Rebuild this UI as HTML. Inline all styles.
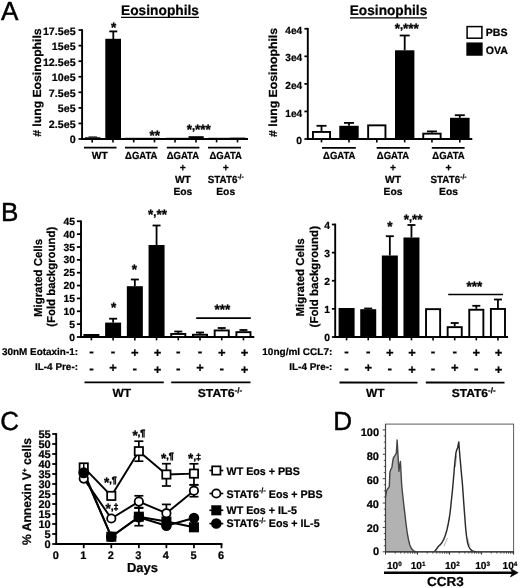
<!DOCTYPE html>
<html lang="en">
<head>
<meta charset="utf-8">
<title>Figure</title>
<style>
html,body{margin:0;padding:0;background:#fff;}
body{width:520px;height:588px;overflow:hidden;}
svg{display:block;font-family:'Liberation Sans', Arial, sans-serif;fill:#000;}
text{stroke:#000;stroke-width:0.22px;text-rendering:geometricPrecision;}
</style>
</head>
<body>
<svg width="520" height="588" viewBox="0 0 520 588" font-family="'Liberation Sans', Arial, sans-serif">
<rect x="0" y="0" width="520" height="588" fill="#fff" stroke="none"/>
<text x="1.10" y="19.70" font-size="26.1" style="stroke-width:0.45px">A</text>
<text x="0.90" y="220.90" font-size="26.1" style="stroke-width:0.45px">B</text>
<text x="0.20" y="430.00" font-size="26.1" style="stroke-width:0.45px">C</text>
<text x="333.20" y="430.10" font-size="26.1" style="stroke-width:0.45px">D</text>
<line x1="82.10" y1="29.20" x2="82.10" y2="139.90" stroke="#000" stroke-width="1.9" stroke-linecap="butt"/>
<line x1="81.20" y1="139.00" x2="248.00" y2="139.00" stroke="#000" stroke-width="1.9" stroke-linecap="butt"/>
<line x1="78.50" y1="139.00" x2="82.10" y2="139.00" stroke="#000" stroke-width="1.75" stroke-linecap="butt"/>
<text x="75.60" y="143.43" font-size="10.7" text-anchor="end" font-weight="bold">0</text>
<line x1="78.50" y1="123.44" x2="82.10" y2="123.44" stroke="#000" stroke-width="1.75" stroke-linecap="butt"/>
<text x="75.60" y="127.87" font-size="10.7" text-anchor="end" font-weight="bold">2.5e5</text>
<line x1="78.50" y1="107.88" x2="82.10" y2="107.88" stroke="#000" stroke-width="1.75" stroke-linecap="butt"/>
<text x="75.60" y="112.31" font-size="10.7" text-anchor="end" font-weight="bold">5e5</text>
<line x1="78.50" y1="92.32" x2="82.10" y2="92.32" stroke="#000" stroke-width="1.75" stroke-linecap="butt"/>
<text x="75.60" y="96.75" font-size="10.7" text-anchor="end" font-weight="bold">7.5e5</text>
<line x1="78.50" y1="76.76" x2="82.10" y2="76.76" stroke="#000" stroke-width="1.75" stroke-linecap="butt"/>
<text x="75.60" y="81.19" font-size="10.7" text-anchor="end" font-weight="bold">10e5</text>
<line x1="78.50" y1="61.20" x2="82.10" y2="61.20" stroke="#000" stroke-width="1.75" stroke-linecap="butt"/>
<text x="75.60" y="65.63" font-size="10.7" text-anchor="end" font-weight="bold">12.5e5</text>
<line x1="78.50" y1="45.64" x2="82.10" y2="45.64" stroke="#000" stroke-width="1.75" stroke-linecap="butt"/>
<text x="75.60" y="50.07" font-size="10.7" text-anchor="end" font-weight="bold">15e5</text>
<line x1="78.50" y1="30.08" x2="82.10" y2="30.08" stroke="#000" stroke-width="1.75" stroke-linecap="butt"/>
<text x="75.60" y="34.51" font-size="10.7" text-anchor="end" font-weight="bold">17.5e5</text>
<text x="36.60" y="86.79" font-size="11.7" text-anchor="middle" font-weight="bold" transform="rotate(-90 36.60 82.60)" textLength="108.5" lengthAdjust="spacingAndGlyphs"># lung Eosinophils</text>
<text x="160.00" y="15.21" font-size="14" text-anchor="middle" font-weight="bold" textLength="78" lengthAdjust="spacingAndGlyphs">Eosinophils</text>
<line x1="121.00" y1="17.40" x2="199.00" y2="17.40" stroke="#000" stroke-width="1.3" stroke-linecap="butt"/>
<rect x="85.95" y="138.25" width="13.60" height="0.75" fill="#000" stroke="#000" stroke-width="1.9"/>
<line x1="88.50" y1="136.90" x2="97.00" y2="136.90" stroke="#000" stroke-width="0.9" stroke-linecap="butt"/>
<rect x="106.25" y="39.75" width="13.80" height="99.25" fill="#000" stroke="#000" stroke-width="1.9"/>
<line x1="113.30" y1="39.00" x2="113.30" y2="31.40" stroke="#000" stroke-width="1.8" stroke-linecap="butt"/>
<line x1="109.30" y1="31.40" x2="117.30" y2="31.40" stroke="#000" stroke-width="1.8" stroke-linecap="butt"/>
<text x="113.70" y="32.21" font-size="13.5" text-anchor="middle" font-weight="bold" style="stroke-width:0.32px">*</text>
<line x1="125.00" y1="138.30" x2="160.00" y2="138.30" stroke="#000" stroke-width="1.0" stroke-linecap="butt"/>
<line x1="166.00" y1="138.30" x2="188.00" y2="138.30" stroke="#000" stroke-width="1.0" stroke-linecap="butt"/>
<rect x="189.45" y="137.15" width="13.30" height="1.85" fill="#000" stroke="#000" stroke-width="1.9"/>
<line x1="208.00" y1="138.30" x2="230.00" y2="138.30" stroke="#000" stroke-width="1.0" stroke-linecap="butt"/>
<rect x="230.95" y="138.55" width="13.60" height="0.45" fill="#000" stroke="#000" stroke-width="1.9"/>
<text x="154.70" y="139.51" font-size="13.5" text-anchor="middle" font-weight="bold" style="stroke-width:0.32px">**</text>
<text x="198.80" y="133.61" font-size="13.5" text-anchor="middle" font-weight="bold" style="stroke-width:0.32px">*<tspan font-size="11" dy="-3.7">,</tspan><tspan dy="3.7">***</tspan></text>
<line x1="92.20" y1="139.00" x2="92.20" y2="142.40" stroke="#000" stroke-width="1.6" stroke-linecap="butt"/>
<line x1="113.00" y1="139.00" x2="113.00" y2="142.40" stroke="#000" stroke-width="1.6" stroke-linecap="butt"/>
<line x1="133.70" y1="139.00" x2="133.70" y2="142.40" stroke="#000" stroke-width="1.6" stroke-linecap="butt"/>
<line x1="154.50" y1="139.00" x2="154.50" y2="142.40" stroke="#000" stroke-width="1.6" stroke-linecap="butt"/>
<line x1="175.00" y1="139.00" x2="175.00" y2="142.40" stroke="#000" stroke-width="1.6" stroke-linecap="butt"/>
<line x1="196.00" y1="139.00" x2="196.00" y2="142.40" stroke="#000" stroke-width="1.6" stroke-linecap="butt"/>
<line x1="216.60" y1="139.00" x2="216.60" y2="142.40" stroke="#000" stroke-width="1.6" stroke-linecap="butt"/>
<line x1="237.50" y1="139.00" x2="237.50" y2="142.40" stroke="#000" stroke-width="1.6" stroke-linecap="butt"/>
<line x1="84.00" y1="147.60" x2="116.50" y2="147.60" stroke="#000" stroke-width="1.75" stroke-linecap="butt"/>
<line x1="125.00" y1="147.60" x2="157.60" y2="147.60" stroke="#000" stroke-width="1.75" stroke-linecap="butt"/>
<line x1="166.80" y1="147.60" x2="199.40" y2="147.60" stroke="#000" stroke-width="1.75" stroke-linecap="butt"/>
<line x1="208.00" y1="147.60" x2="241.00" y2="147.60" stroke="#000" stroke-width="1.75" stroke-linecap="butt"/>
<text x="99.80" y="159.29" font-size="10.3" text-anchor="middle" font-weight="bold">WT</text>
<text x="141.30" y="159.19" font-size="10.3" text-anchor="middle" font-weight="bold" textLength="32.4" lengthAdjust="spacingAndGlyphs">&#916;GATA</text>
<text x="182.90" y="159.19" font-size="10.3" text-anchor="middle" font-weight="bold" textLength="32.4" lengthAdjust="spacingAndGlyphs">&#916;GATA</text>
<text x="182.90" y="171.18" font-size="10.4" text-anchor="middle" font-weight="bold">+</text>
<text x="182.90" y="182.89" font-size="10.3" text-anchor="middle" font-weight="bold">WT</text>
<text x="182.90" y="195.19" font-size="10.3" text-anchor="middle" font-weight="bold">Eos</text>
<text x="225.70" y="159.19" font-size="10.3" text-anchor="middle" font-weight="bold" textLength="32.4" lengthAdjust="spacingAndGlyphs">&#916;GATA</text>
<text x="225.70" y="171.18" font-size="10.4" text-anchor="middle" font-weight="bold">+</text>
<text x="225.70" y="182.89" font-size="10.3" text-anchor="middle" font-weight="bold" textLength="36" lengthAdjust="spacingAndGlyphs">STAT6<tspan font-size="7.0" dy="-4.1">-/-</tspan></text>
<text x="225.70" y="195.19" font-size="10.3" text-anchor="middle" font-weight="bold">Eos</text>
<line x1="307.80" y1="27.90" x2="307.80" y2="139.90" stroke="#000" stroke-width="1.9" stroke-linecap="butt"/>
<line x1="306.90" y1="139.00" x2="472.30" y2="139.00" stroke="#000" stroke-width="1.9" stroke-linecap="butt"/>
<line x1="304.40" y1="139.00" x2="307.80" y2="139.00" stroke="#000" stroke-width="1.75" stroke-linecap="butt"/>
<text x="302.10" y="144.09" font-size="10.3" text-anchor="end" font-weight="bold">0</text>
<line x1="304.40" y1="111.44" x2="307.80" y2="111.44" stroke="#000" stroke-width="1.75" stroke-linecap="butt"/>
<text x="302.10" y="116.53" font-size="10.3" text-anchor="end" font-weight="bold" textLength="16.8" lengthAdjust="spacingAndGlyphs">1e4</text>
<line x1="304.40" y1="83.88" x2="307.80" y2="83.88" stroke="#000" stroke-width="1.75" stroke-linecap="butt"/>
<text x="302.10" y="88.97" font-size="10.3" text-anchor="end" font-weight="bold" textLength="16.8" lengthAdjust="spacingAndGlyphs">2e4</text>
<line x1="304.40" y1="56.32" x2="307.80" y2="56.32" stroke="#000" stroke-width="1.75" stroke-linecap="butt"/>
<text x="302.10" y="61.41" font-size="10.3" text-anchor="end" font-weight="bold" textLength="16.8" lengthAdjust="spacingAndGlyphs">3e4</text>
<line x1="304.40" y1="28.76" x2="307.80" y2="28.76" stroke="#000" stroke-width="1.75" stroke-linecap="butt"/>
<text x="302.10" y="33.85" font-size="10.3" text-anchor="end" font-weight="bold" textLength="16.8" lengthAdjust="spacingAndGlyphs">4e4</text>
<text x="272.90" y="86.59" font-size="11.7" text-anchor="middle" font-weight="bold" transform="rotate(-90 272.90 82.40)" textLength="109" lengthAdjust="spacingAndGlyphs"># lung Eosinophils</text>
<text x="388.50" y="15.41" font-size="14" text-anchor="middle" font-weight="bold" textLength="77.5" lengthAdjust="spacingAndGlyphs">Eosinophils</text>
<line x1="350.00" y1="17.80" x2="427.00" y2="17.80" stroke="#000" stroke-width="1.3" stroke-linecap="butt"/>
<line x1="321.50" y1="131.00" x2="321.50" y2="125.80" stroke="#000" stroke-width="1.8" stroke-linecap="butt"/>
<line x1="316.50" y1="125.80" x2="326.50" y2="125.80" stroke="#000" stroke-width="1.8" stroke-linecap="butt"/>
<rect x="312.95" y="131.95" width="17.10" height="7.05" fill="#fff" stroke="#000" stroke-width="1.9"/>
<line x1="321.50" y1="139.00" x2="321.50" y2="142.40" stroke="#000" stroke-width="1.6" stroke-linecap="butt"/>
<line x1="349.00" y1="125.80" x2="349.00" y2="122.90" stroke="#000" stroke-width="1.8" stroke-linecap="butt"/>
<line x1="344.00" y1="122.90" x2="354.00" y2="122.90" stroke="#000" stroke-width="1.8" stroke-linecap="butt"/>
<rect x="340.25" y="126.75" width="17.50" height="12.25" fill="#000" stroke="#000" stroke-width="1.9"/>
<line x1="349.00" y1="139.00" x2="349.00" y2="142.40" stroke="#000" stroke-width="1.6" stroke-linecap="butt"/>
<rect x="368.15" y="125.35" width="17.30" height="13.65" fill="#fff" stroke="#000" stroke-width="1.9"/>
<line x1="376.80" y1="139.00" x2="376.80" y2="142.40" stroke="#000" stroke-width="1.6" stroke-linecap="butt"/>
<line x1="404.70" y1="50.30" x2="404.70" y2="35.50" stroke="#000" stroke-width="1.8" stroke-linecap="butt"/>
<line x1="399.70" y1="35.50" x2="409.70" y2="35.50" stroke="#000" stroke-width="1.8" stroke-linecap="butt"/>
<rect x="395.95" y="51.25" width="17.50" height="87.75" fill="#000" stroke="#000" stroke-width="1.9"/>
<line x1="404.70" y1="139.00" x2="404.70" y2="142.40" stroke="#000" stroke-width="1.6" stroke-linecap="butt"/>
<line x1="431.95" y1="132.70" x2="431.95" y2="131.40" stroke="#000" stroke-width="1.8" stroke-linecap="butt"/>
<line x1="426.95" y1="131.40" x2="436.95" y2="131.40" stroke="#000" stroke-width="1.8" stroke-linecap="butt"/>
<rect x="423.25" y="133.65" width="17.40" height="5.35" fill="#fff" stroke="#000" stroke-width="1.9"/>
<line x1="431.95" y1="139.00" x2="431.95" y2="142.40" stroke="#000" stroke-width="1.6" stroke-linecap="butt"/>
<line x1="459.80" y1="117.80" x2="459.80" y2="115.20" stroke="#000" stroke-width="1.8" stroke-linecap="butt"/>
<line x1="454.80" y1="115.20" x2="464.80" y2="115.20" stroke="#000" stroke-width="1.8" stroke-linecap="butt"/>
<rect x="450.95" y="118.75" width="17.70" height="20.25" fill="#000" stroke="#000" stroke-width="1.9"/>
<line x1="459.80" y1="139.00" x2="459.80" y2="142.40" stroke="#000" stroke-width="1.6" stroke-linecap="butt"/>
<text x="406.80" y="32.51" font-size="13.5" text-anchor="middle" font-weight="bold" style="stroke-width:0.32px">*<tspan font-size="11" dy="-3.7">,</tspan><tspan dy="3.7">***</tspan></text>
<line x1="322.00" y1="147.90" x2="355.80" y2="147.90" stroke="#000" stroke-width="1.75" stroke-linecap="butt"/>
<line x1="376.60" y1="147.90" x2="409.80" y2="147.90" stroke="#000" stroke-width="1.75" stroke-linecap="butt"/>
<line x1="431.80" y1="147.90" x2="464.60" y2="147.90" stroke="#000" stroke-width="1.75" stroke-linecap="butt"/>
<text x="339.30" y="159.19" font-size="10.3" text-anchor="middle" font-weight="bold" textLength="32.4" lengthAdjust="spacingAndGlyphs">&#916;GATA</text>
<text x="393.00" y="159.19" font-size="10.3" text-anchor="middle" font-weight="bold" textLength="32.4" lengthAdjust="spacingAndGlyphs">&#916;GATA</text>
<text x="393.00" y="171.18" font-size="10.4" text-anchor="middle" font-weight="bold">+</text>
<text x="393.00" y="182.89" font-size="10.3" text-anchor="middle" font-weight="bold">WT</text>
<text x="393.00" y="195.19" font-size="10.3" text-anchor="middle" font-weight="bold">Eos</text>
<text x="448.50" y="159.19" font-size="10.3" text-anchor="middle" font-weight="bold" textLength="32.4" lengthAdjust="spacingAndGlyphs">&#916;GATA</text>
<text x="448.50" y="171.18" font-size="10.4" text-anchor="middle" font-weight="bold">+</text>
<text x="448.50" y="182.89" font-size="10.3" text-anchor="middle" font-weight="bold" textLength="36" lengthAdjust="spacingAndGlyphs">STAT6<tspan font-size="7.0" dy="-4.1">-/-</tspan></text>
<text x="448.50" y="195.19" font-size="10.3" text-anchor="middle" font-weight="bold">Eos</text>
<rect x="467.10" y="26.60" width="14.80" height="11.60" fill="#fff" stroke="#000" stroke-width="1.5"/>
<rect x="467.10" y="43.20" width="14.80" height="11.80" fill="#000" stroke="#000" stroke-width="1.5"/>
<text x="485.80" y="36.39" font-size="10.6" text-anchor="start" font-weight="bold">PBS</text>
<text x="485.80" y="54.39" font-size="10.6" text-anchor="start" font-weight="bold">OVA</text>
<line x1="81.00" y1="220.40" x2="81.00" y2="337.90" stroke="#000" stroke-width="1.9" stroke-linecap="butt"/>
<line x1="80.10" y1="337.00" x2="254.30" y2="337.00" stroke="#000" stroke-width="1.9" stroke-linecap="butt"/>
<line x1="76.90" y1="337.00" x2="81.00" y2="337.00" stroke="#000" stroke-width="1.75" stroke-linecap="butt"/>
<text x="75.00" y="340.59" font-size="10.3" text-anchor="end" font-weight="bold">0</text>
<line x1="76.90" y1="324.14" x2="81.00" y2="324.14" stroke="#000" stroke-width="1.75" stroke-linecap="butt"/>
<text x="75.00" y="327.73" font-size="10.3" text-anchor="end" font-weight="bold">5</text>
<line x1="76.90" y1="311.28" x2="81.00" y2="311.28" stroke="#000" stroke-width="1.75" stroke-linecap="butt"/>
<text x="75.00" y="314.87" font-size="10.3" text-anchor="end" font-weight="bold">10</text>
<line x1="76.90" y1="298.42" x2="81.00" y2="298.42" stroke="#000" stroke-width="1.75" stroke-linecap="butt"/>
<text x="75.00" y="302.01" font-size="10.3" text-anchor="end" font-weight="bold">15</text>
<line x1="76.90" y1="285.56" x2="81.00" y2="285.56" stroke="#000" stroke-width="1.75" stroke-linecap="butt"/>
<text x="75.00" y="289.15" font-size="10.3" text-anchor="end" font-weight="bold">20</text>
<line x1="76.90" y1="272.70" x2="81.00" y2="272.70" stroke="#000" stroke-width="1.75" stroke-linecap="butt"/>
<text x="75.00" y="276.29" font-size="10.3" text-anchor="end" font-weight="bold">25</text>
<line x1="76.90" y1="259.84" x2="81.00" y2="259.84" stroke="#000" stroke-width="1.75" stroke-linecap="butt"/>
<text x="75.00" y="263.43" font-size="10.3" text-anchor="end" font-weight="bold">30</text>
<line x1="76.90" y1="246.98" x2="81.00" y2="246.98" stroke="#000" stroke-width="1.75" stroke-linecap="butt"/>
<text x="75.00" y="250.57" font-size="10.3" text-anchor="end" font-weight="bold">35</text>
<line x1="76.90" y1="234.12" x2="81.00" y2="234.12" stroke="#000" stroke-width="1.75" stroke-linecap="butt"/>
<text x="75.00" y="237.71" font-size="10.3" text-anchor="end" font-weight="bold">40</text>
<line x1="76.90" y1="221.26" x2="81.00" y2="221.26" stroke="#000" stroke-width="1.75" stroke-linecap="butt"/>
<text x="75.00" y="224.85" font-size="10.3" text-anchor="end" font-weight="bold">45</text>
<text x="37.50" y="282.12" font-size="11.5" text-anchor="middle" font-weight="bold" transform="rotate(-90 37.50 278.00)" textLength="78" lengthAdjust="spacingAndGlyphs">Migrated Cells</text>
<text x="51.00" y="280.92" font-size="11.5" text-anchor="middle" font-weight="bold" transform="rotate(-90 51.00 276.80)" textLength="100" lengthAdjust="spacingAndGlyphs">(Fold background)</text>
<rect x="84.35" y="334.95" width="14.10" height="2.05" fill="#000" stroke="#000" stroke-width="1.9"/>
<line x1="91.40" y1="337.00" x2="91.40" y2="340.40" stroke="#000" stroke-width="1.6" stroke-linecap="butt"/>
<line x1="113.12" y1="322.60" x2="113.12" y2="318.70" stroke="#000" stroke-width="1.8" stroke-linecap="butt"/>
<line x1="109.12" y1="318.70" x2="117.12" y2="318.70" stroke="#000" stroke-width="1.8" stroke-linecap="butt"/>
<rect x="106.07" y="323.55" width="14.10" height="13.45" fill="#000" stroke="#000" stroke-width="1.9"/>
<line x1="113.12" y1="337.00" x2="113.12" y2="340.40" stroke="#000" stroke-width="1.6" stroke-linecap="butt"/>
<line x1="134.84" y1="286.20" x2="134.84" y2="279.50" stroke="#000" stroke-width="1.8" stroke-linecap="butt"/>
<line x1="130.84" y1="279.50" x2="138.84" y2="279.50" stroke="#000" stroke-width="1.8" stroke-linecap="butt"/>
<rect x="127.79" y="287.15" width="14.10" height="49.85" fill="#000" stroke="#000" stroke-width="1.9"/>
<line x1="134.84" y1="337.00" x2="134.84" y2="340.40" stroke="#000" stroke-width="1.6" stroke-linecap="butt"/>
<line x1="156.56" y1="245.00" x2="156.56" y2="225.50" stroke="#000" stroke-width="1.8" stroke-linecap="butt"/>
<line x1="152.56" y1="225.50" x2="160.56" y2="225.50" stroke="#000" stroke-width="1.8" stroke-linecap="butt"/>
<rect x="149.51" y="245.95" width="14.10" height="91.05" fill="#000" stroke="#000" stroke-width="1.9"/>
<line x1="156.56" y1="337.00" x2="156.56" y2="340.40" stroke="#000" stroke-width="1.6" stroke-linecap="butt"/>
<line x1="178.28" y1="333.00" x2="178.28" y2="331.50" stroke="#000" stroke-width="1.8" stroke-linecap="butt"/>
<line x1="174.28" y1="331.50" x2="182.28" y2="331.50" stroke="#000" stroke-width="1.8" stroke-linecap="butt"/>
<rect x="171.23" y="333.95" width="14.10" height="3.05" fill="#fff" stroke="#000" stroke-width="1.9"/>
<line x1="178.28" y1="337.00" x2="178.28" y2="340.40" stroke="#000" stroke-width="1.6" stroke-linecap="butt"/>
<line x1="200.00" y1="333.80" x2="200.00" y2="332.50" stroke="#000" stroke-width="1.8" stroke-linecap="butt"/>
<line x1="196.00" y1="332.50" x2="204.00" y2="332.50" stroke="#000" stroke-width="1.8" stroke-linecap="butt"/>
<rect x="192.95" y="334.75" width="14.10" height="2.25" fill="#fff" stroke="#000" stroke-width="1.9"/>
<line x1="200.00" y1="337.00" x2="200.00" y2="340.40" stroke="#000" stroke-width="1.6" stroke-linecap="butt"/>
<line x1="221.72" y1="329.50" x2="221.72" y2="328.00" stroke="#000" stroke-width="1.8" stroke-linecap="butt"/>
<line x1="217.72" y1="328.00" x2="225.72" y2="328.00" stroke="#000" stroke-width="1.8" stroke-linecap="butt"/>
<rect x="214.67" y="330.45" width="14.10" height="6.55" fill="#fff" stroke="#000" stroke-width="1.9"/>
<line x1="221.72" y1="337.00" x2="221.72" y2="340.40" stroke="#000" stroke-width="1.6" stroke-linecap="butt"/>
<line x1="243.44" y1="331.20" x2="243.44" y2="330.00" stroke="#000" stroke-width="1.8" stroke-linecap="butt"/>
<line x1="239.44" y1="330.00" x2="247.44" y2="330.00" stroke="#000" stroke-width="1.8" stroke-linecap="butt"/>
<rect x="236.39" y="332.15" width="14.10" height="4.85" fill="#fff" stroke="#000" stroke-width="1.9"/>
<line x1="243.44" y1="337.00" x2="243.44" y2="340.40" stroke="#000" stroke-width="1.6" stroke-linecap="butt"/>
<text x="113.70" y="312.21" font-size="13.5" text-anchor="middle" font-weight="bold" style="stroke-width:0.32px">*</text>
<text x="134.50" y="274.21" font-size="13.5" text-anchor="middle" font-weight="bold" style="stroke-width:0.32px">*</text>
<text x="157.50" y="219.21" font-size="13.5" text-anchor="middle" font-weight="bold" style="stroke-width:0.32px">*<tspan font-size="11" dy="-3.7">,</tspan><tspan dy="3.7">**</tspan></text>
<text x="222.50" y="314.21" font-size="13.5" text-anchor="middle" font-weight="bold" style="stroke-width:0.32px">***</text>
<line x1="196.20" y1="318.20" x2="250.80" y2="318.20" stroke="#000" stroke-width="1.7" stroke-linecap="butt"/>
<text x="78.00" y="355.31" font-size="9.8" text-anchor="end" font-weight="bold" textLength="76" lengthAdjust="spacingAndGlyphs">30nM Eotaxin-1:</text>
<text x="78.00" y="369.51" font-size="9.8" text-anchor="end" font-weight="bold" textLength="43" lengthAdjust="spacingAndGlyphs">IL-4 Pre-:</text>
<text x="91.40" y="356.31" font-size="13.5" text-anchor="middle" font-weight="bold">-</text>
<text x="91.40" y="373.01" font-size="13.5" text-anchor="middle" font-weight="bold">-</text>
<text x="113.12" y="356.31" font-size="13.5" text-anchor="middle" font-weight="bold">-</text>
<text x="113.12" y="371.86" font-size="13.0" text-anchor="middle" font-weight="bold">+</text>
<text x="134.84" y="357.16" font-size="13.0" text-anchor="middle" font-weight="bold">+</text>
<text x="134.84" y="373.01" font-size="13.5" text-anchor="middle" font-weight="bold">-</text>
<text x="157.66" y="357.16" font-size="13.0" text-anchor="middle" font-weight="bold">+</text>
<text x="157.66" y="373.75" font-size="13.0" text-anchor="middle" font-weight="bold">+</text>
<text x="178.28" y="356.31" font-size="13.5" text-anchor="middle" font-weight="bold">-</text>
<text x="178.28" y="373.01" font-size="13.5" text-anchor="middle" font-weight="bold">-</text>
<text x="200.00" y="356.31" font-size="13.5" text-anchor="middle" font-weight="bold">-</text>
<text x="200.00" y="371.86" font-size="13.0" text-anchor="middle" font-weight="bold">+</text>
<text x="221.72" y="357.16" font-size="13.0" text-anchor="middle" font-weight="bold">+</text>
<text x="221.72" y="373.01" font-size="13.5" text-anchor="middle" font-weight="bold">-</text>
<text x="244.54" y="357.16" font-size="13.0" text-anchor="middle" font-weight="bold">+</text>
<text x="244.54" y="373.75" font-size="13.0" text-anchor="middle" font-weight="bold">+</text>
<line x1="84.50" y1="382.40" x2="163.80" y2="382.40" stroke="#000" stroke-width="1.8" stroke-linecap="butt"/>
<line x1="171.20" y1="382.40" x2="250.50" y2="382.40" stroke="#000" stroke-width="1.8" stroke-linecap="butt"/>
<text x="121.80" y="397.00" font-size="12" text-anchor="middle" font-weight="bold">WT</text>
<text x="220.00" y="397.12" font-size="11.5" text-anchor="middle" font-weight="bold" textLength="44.5" lengthAdjust="spacingAndGlyphs">STAT6<tspan font-size="7.8" dy="-4.6">-/-</tspan></text>
<line x1="335.20" y1="223.60" x2="335.20" y2="337.90" stroke="#000" stroke-width="1.9" stroke-linecap="butt"/>
<line x1="334.30" y1="337.00" x2="508.00" y2="337.00" stroke="#000" stroke-width="1.9" stroke-linecap="butt"/>
<line x1="331.90" y1="337.00" x2="335.20" y2="337.00" stroke="#000" stroke-width="1.75" stroke-linecap="butt"/>
<text x="330.00" y="341.29" font-size="10.3" text-anchor="end" font-weight="bold">0</text>
<line x1="331.90" y1="308.88" x2="335.20" y2="308.88" stroke="#000" stroke-width="1.75" stroke-linecap="butt"/>
<text x="330.00" y="313.17" font-size="10.3" text-anchor="end" font-weight="bold">1</text>
<line x1="331.90" y1="280.76" x2="335.20" y2="280.76" stroke="#000" stroke-width="1.75" stroke-linecap="butt"/>
<text x="330.00" y="285.05" font-size="10.3" text-anchor="end" font-weight="bold">2</text>
<line x1="331.90" y1="252.64" x2="335.20" y2="252.64" stroke="#000" stroke-width="1.75" stroke-linecap="butt"/>
<text x="330.00" y="256.93" font-size="10.3" text-anchor="end" font-weight="bold">3</text>
<line x1="331.90" y1="224.52" x2="335.20" y2="224.52" stroke="#000" stroke-width="1.75" stroke-linecap="butt"/>
<text x="330.00" y="228.81" font-size="10.3" text-anchor="end" font-weight="bold">4</text>
<text x="300.00" y="281.62" font-size="11.5" text-anchor="middle" font-weight="bold" transform="rotate(-90 300.00 277.50)" textLength="78" lengthAdjust="spacingAndGlyphs">Migrated Cells</text>
<text x="313.70" y="280.82" font-size="11.5" text-anchor="middle" font-weight="bold" transform="rotate(-90 313.70 276.70)" textLength="101.5" lengthAdjust="spacingAndGlyphs">(Fold background)</text>
<rect x="339.55" y="308.95" width="14.10" height="28.05" fill="#000" stroke="#000" stroke-width="1.9"/>
<line x1="346.60" y1="337.00" x2="346.60" y2="340.40" stroke="#000" stroke-width="1.6" stroke-linecap="butt"/>
<line x1="368.22" y1="309.20" x2="368.22" y2="308.50" stroke="#000" stroke-width="1.8" stroke-linecap="butt"/>
<line x1="364.22" y1="308.50" x2="372.22" y2="308.50" stroke="#000" stroke-width="1.8" stroke-linecap="butt"/>
<rect x="361.17" y="310.15" width="14.10" height="26.85" fill="#000" stroke="#000" stroke-width="1.9"/>
<line x1="368.22" y1="337.00" x2="368.22" y2="340.40" stroke="#000" stroke-width="1.6" stroke-linecap="butt"/>
<line x1="389.84" y1="255.50" x2="389.84" y2="236.20" stroke="#000" stroke-width="1.8" stroke-linecap="butt"/>
<line x1="385.84" y1="236.20" x2="393.84" y2="236.20" stroke="#000" stroke-width="1.8" stroke-linecap="butt"/>
<rect x="382.79" y="256.45" width="14.10" height="80.55" fill="#000" stroke="#000" stroke-width="1.9"/>
<line x1="389.84" y1="337.00" x2="389.84" y2="340.40" stroke="#000" stroke-width="1.6" stroke-linecap="butt"/>
<line x1="411.46" y1="237.50" x2="411.46" y2="225.00" stroke="#000" stroke-width="1.8" stroke-linecap="butt"/>
<line x1="407.46" y1="225.00" x2="415.46" y2="225.00" stroke="#000" stroke-width="1.8" stroke-linecap="butt"/>
<rect x="404.41" y="238.45" width="14.10" height="98.55" fill="#000" stroke="#000" stroke-width="1.9"/>
<line x1="411.46" y1="337.00" x2="411.46" y2="340.40" stroke="#000" stroke-width="1.6" stroke-linecap="butt"/>
<rect x="426.03" y="309.15" width="14.10" height="27.85" fill="#fff" stroke="#000" stroke-width="1.9"/>
<line x1="433.08" y1="337.00" x2="433.08" y2="340.40" stroke="#000" stroke-width="1.6" stroke-linecap="butt"/>
<line x1="454.70" y1="326.20" x2="454.70" y2="323.00" stroke="#000" stroke-width="1.8" stroke-linecap="butt"/>
<line x1="450.70" y1="323.00" x2="458.70" y2="323.00" stroke="#000" stroke-width="1.8" stroke-linecap="butt"/>
<rect x="447.65" y="327.15" width="14.10" height="9.85" fill="#fff" stroke="#000" stroke-width="1.9"/>
<line x1="454.70" y1="337.00" x2="454.70" y2="340.40" stroke="#000" stroke-width="1.6" stroke-linecap="butt"/>
<line x1="476.32" y1="308.80" x2="476.32" y2="305.80" stroke="#000" stroke-width="1.8" stroke-linecap="butt"/>
<line x1="472.32" y1="305.80" x2="480.32" y2="305.80" stroke="#000" stroke-width="1.8" stroke-linecap="butt"/>
<rect x="469.27" y="309.75" width="14.10" height="27.25" fill="#fff" stroke="#000" stroke-width="1.9"/>
<line x1="476.32" y1="337.00" x2="476.32" y2="340.40" stroke="#000" stroke-width="1.6" stroke-linecap="butt"/>
<line x1="497.94" y1="308.00" x2="497.94" y2="299.50" stroke="#000" stroke-width="1.8" stroke-linecap="butt"/>
<line x1="493.94" y1="299.50" x2="501.94" y2="299.50" stroke="#000" stroke-width="1.8" stroke-linecap="butt"/>
<rect x="490.89" y="308.95" width="14.10" height="28.05" fill="#fff" stroke="#000" stroke-width="1.9"/>
<line x1="497.94" y1="337.00" x2="497.94" y2="340.40" stroke="#000" stroke-width="1.6" stroke-linecap="butt"/>
<text x="389.80" y="231.21" font-size="13.5" text-anchor="middle" font-weight="bold" style="stroke-width:0.32px">*</text>
<text x="413.20" y="224.21" font-size="13.5" text-anchor="middle" font-weight="bold" style="stroke-width:0.32px">*<tspan font-size="11" dy="-3.7">,</tspan><tspan dy="3.7">**</tspan></text>
<text x="474.40" y="290.51" font-size="13.5" text-anchor="middle" font-weight="bold" style="stroke-width:0.32px">***</text>
<line x1="448.20" y1="294.50" x2="503.00" y2="294.50" stroke="#000" stroke-width="1.7" stroke-linecap="butt"/>
<text x="332.30" y="355.31" font-size="9.8" text-anchor="end" font-weight="bold" textLength="70" lengthAdjust="spacingAndGlyphs">10ng/ml CCL7:</text>
<text x="332.30" y="370.01" font-size="9.8" text-anchor="end" font-weight="bold" textLength="43" lengthAdjust="spacingAndGlyphs">IL-4 Pre-:</text>
<text x="346.60" y="356.31" font-size="13.5" text-anchor="middle" font-weight="bold">-</text>
<text x="346.60" y="373.11" font-size="13.5" text-anchor="middle" font-weight="bold">-</text>
<text x="368.22" y="356.31" font-size="13.5" text-anchor="middle" font-weight="bold">-</text>
<text x="368.22" y="371.96" font-size="13.0" text-anchor="middle" font-weight="bold">+</text>
<text x="389.84" y="357.16" font-size="13.0" text-anchor="middle" font-weight="bold">+</text>
<text x="389.84" y="373.11" font-size="13.5" text-anchor="middle" font-weight="bold">-</text>
<text x="412.16" y="357.16" font-size="13.0" text-anchor="middle" font-weight="bold">+</text>
<text x="412.16" y="373.75" font-size="13.0" text-anchor="middle" font-weight="bold">+</text>
<text x="433.08" y="356.31" font-size="13.5" text-anchor="middle" font-weight="bold">-</text>
<text x="433.08" y="373.11" font-size="13.5" text-anchor="middle" font-weight="bold">-</text>
<text x="454.70" y="356.31" font-size="13.5" text-anchor="middle" font-weight="bold">-</text>
<text x="454.70" y="371.96" font-size="13.0" text-anchor="middle" font-weight="bold">+</text>
<text x="476.32" y="357.16" font-size="13.0" text-anchor="middle" font-weight="bold">+</text>
<text x="476.32" y="373.11" font-size="13.5" text-anchor="middle" font-weight="bold">-</text>
<text x="498.64" y="357.16" font-size="13.0" text-anchor="middle" font-weight="bold">+</text>
<text x="498.64" y="373.75" font-size="13.0" text-anchor="middle" font-weight="bold">+</text>
<line x1="339.50" y1="382.50" x2="417.50" y2="382.60" stroke="#000" stroke-width="1.8" stroke-linecap="butt"/>
<line x1="425.80" y1="382.50" x2="504.50" y2="382.60" stroke="#000" stroke-width="1.8" stroke-linecap="butt"/>
<text x="375.30" y="397.00" font-size="12" text-anchor="middle" font-weight="bold">WT</text>
<text x="473.70" y="397.12" font-size="11.5" text-anchor="middle" font-weight="bold" textLength="44" lengthAdjust="spacingAndGlyphs">STAT6<tspan font-size="7.8" dy="-4.6">-/-</tspan></text>
<line x1="56.20" y1="433.10" x2="56.20" y2="544.90" stroke="#000" stroke-width="1.9" stroke-linecap="butt"/>
<line x1="55.30" y1="544.00" x2="222.40" y2="544.00" stroke="#000" stroke-width="1.9" stroke-linecap="butt"/>
<line x1="52.20" y1="544.00" x2="56.20" y2="544.00" stroke="#000" stroke-width="1.75" stroke-linecap="butt"/>
<text x="50.70" y="547.94" font-size="11" text-anchor="end" font-weight="bold">0</text>
<line x1="52.20" y1="534.00" x2="56.20" y2="534.00" stroke="#000" stroke-width="1.75" stroke-linecap="butt"/>
<text x="50.70" y="537.94" font-size="11" text-anchor="end" font-weight="bold">5</text>
<line x1="52.20" y1="524.00" x2="56.20" y2="524.00" stroke="#000" stroke-width="1.75" stroke-linecap="butt"/>
<text x="50.70" y="527.94" font-size="11" text-anchor="end" font-weight="bold">10</text>
<line x1="52.20" y1="514.00" x2="56.20" y2="514.00" stroke="#000" stroke-width="1.75" stroke-linecap="butt"/>
<text x="50.70" y="517.94" font-size="11" text-anchor="end" font-weight="bold">15</text>
<line x1="52.20" y1="504.00" x2="56.20" y2="504.00" stroke="#000" stroke-width="1.75" stroke-linecap="butt"/>
<text x="50.70" y="507.94" font-size="11" text-anchor="end" font-weight="bold">20</text>
<line x1="52.20" y1="494.00" x2="56.20" y2="494.00" stroke="#000" stroke-width="1.75" stroke-linecap="butt"/>
<text x="50.70" y="497.94" font-size="11" text-anchor="end" font-weight="bold">25</text>
<line x1="52.20" y1="484.00" x2="56.20" y2="484.00" stroke="#000" stroke-width="1.75" stroke-linecap="butt"/>
<text x="50.70" y="487.94" font-size="11" text-anchor="end" font-weight="bold">30</text>
<line x1="52.20" y1="474.00" x2="56.20" y2="474.00" stroke="#000" stroke-width="1.75" stroke-linecap="butt"/>
<text x="50.70" y="477.94" font-size="11" text-anchor="end" font-weight="bold">35</text>
<line x1="52.20" y1="464.00" x2="56.20" y2="464.00" stroke="#000" stroke-width="1.75" stroke-linecap="butt"/>
<text x="50.70" y="467.94" font-size="11" text-anchor="end" font-weight="bold">40</text>
<line x1="52.20" y1="454.00" x2="56.20" y2="454.00" stroke="#000" stroke-width="1.75" stroke-linecap="butt"/>
<text x="50.70" y="457.94" font-size="11" text-anchor="end" font-weight="bold">45</text>
<line x1="52.20" y1="444.00" x2="56.20" y2="444.00" stroke="#000" stroke-width="1.75" stroke-linecap="butt"/>
<text x="50.70" y="447.94" font-size="11" text-anchor="end" font-weight="bold">50</text>
<line x1="52.20" y1="434.00" x2="56.20" y2="434.00" stroke="#000" stroke-width="1.75" stroke-linecap="butt"/>
<text x="50.70" y="437.94" font-size="11" text-anchor="end" font-weight="bold">55</text>
<text x="55.70" y="558.94" font-size="11" text-anchor="middle" font-weight="bold">0</text>
<line x1="83.75" y1="544.00" x2="83.75" y2="548.20" stroke="#000" stroke-width="1.75" stroke-linecap="butt"/>
<text x="83.25" y="558.94" font-size="11" text-anchor="middle" font-weight="bold">1</text>
<line x1="111.30" y1="544.00" x2="111.30" y2="548.20" stroke="#000" stroke-width="1.75" stroke-linecap="butt"/>
<text x="110.80" y="558.94" font-size="11" text-anchor="middle" font-weight="bold">2</text>
<line x1="138.85" y1="544.00" x2="138.85" y2="548.20" stroke="#000" stroke-width="1.75" stroke-linecap="butt"/>
<text x="138.35" y="558.94" font-size="11" text-anchor="middle" font-weight="bold">3</text>
<line x1="166.40" y1="544.00" x2="166.40" y2="548.20" stroke="#000" stroke-width="1.75" stroke-linecap="butt"/>
<text x="165.90" y="558.94" font-size="11" text-anchor="middle" font-weight="bold">4</text>
<line x1="193.95" y1="544.00" x2="193.95" y2="548.20" stroke="#000" stroke-width="1.75" stroke-linecap="butt"/>
<text x="193.45" y="558.94" font-size="11" text-anchor="middle" font-weight="bold">5</text>
<line x1="221.50" y1="544.00" x2="221.50" y2="548.20" stroke="#000" stroke-width="1.75" stroke-linecap="butt"/>
<text x="221.00" y="558.94" font-size="11" text-anchor="middle" font-weight="bold">6</text>
<text x="27.00" y="495.98" font-size="12.5" text-anchor="middle" font-weight="bold" transform="rotate(-90 27.00 491.50)" textLength="107" lengthAdjust="spacingAndGlyphs">% Annexin V<tspan font-size="7" dy="-4.5">+</tspan><tspan dy="4.5"> cells</tspan></text>
<text x="142.50" y="572.45" font-size="13" text-anchor="middle" font-weight="bold">Days</text>
<polyline points="83.75,473.00 111.30,536.70 138.85,517.20 166.40,525.80 193.95,518.00" fill="none" stroke="#000" stroke-width="1.95" stroke-linejoin="round"/>
<polyline points="83.75,472.00 111.30,536.70 138.85,516.70 166.40,521.50 193.95,527.30" fill="none" stroke="#000" stroke-width="1.95" stroke-linejoin="round"/>
<polyline points="83.75,478.60 111.30,518.50 138.85,501.60 166.40,513.20 193.95,490.70" fill="none" stroke="#000" stroke-width="1.95" stroke-linejoin="round"/>
<polyline points="83.75,467.40 111.30,495.90 138.85,451.20 166.40,474.50 193.95,473.60" fill="none" stroke="#000" stroke-width="1.95" stroke-linejoin="round"/>
<line x1="138.85" y1="508.10" x2="138.85" y2="525.70" stroke="#000" stroke-width="1.7" stroke-linecap="butt"/>
<line x1="134.35" y1="508.10" x2="143.35" y2="508.10" stroke="#000" stroke-width="1.7" stroke-linecap="butt"/>
<line x1="134.35" y1="525.70" x2="143.35" y2="525.70" stroke="#000" stroke-width="1.7" stroke-linecap="butt"/>
<line x1="138.85" y1="495.80" x2="138.85" y2="507.60" stroke="#000" stroke-width="1.7" stroke-linecap="butt"/>
<line x1="134.35" y1="495.80" x2="143.35" y2="495.80" stroke="#000" stroke-width="1.7" stroke-linecap="butt"/>
<line x1="134.35" y1="507.60" x2="143.35" y2="507.60" stroke="#000" stroke-width="1.7" stroke-linecap="butt"/>
<line x1="166.40" y1="504.40" x2="166.40" y2="513.20" stroke="#000" stroke-width="1.7" stroke-linecap="butt"/>
<line x1="161.90" y1="504.40" x2="170.90" y2="504.40" stroke="#000" stroke-width="1.7" stroke-linecap="butt"/>
<line x1="161.90" y1="513.20" x2="170.90" y2="513.20" stroke="#000" stroke-width="1.7" stroke-linecap="butt"/>
<line x1="193.95" y1="484.80" x2="193.95" y2="496.70" stroke="#000" stroke-width="1.7" stroke-linecap="butt"/>
<line x1="189.45" y1="484.80" x2="198.45" y2="484.80" stroke="#000" stroke-width="1.7" stroke-linecap="butt"/>
<line x1="189.45" y1="496.70" x2="198.45" y2="496.70" stroke="#000" stroke-width="1.7" stroke-linecap="butt"/>
<line x1="138.85" y1="441.20" x2="138.85" y2="461.20" stroke="#000" stroke-width="1.7" stroke-linecap="butt"/>
<line x1="134.35" y1="441.20" x2="143.35" y2="441.20" stroke="#000" stroke-width="1.7" stroke-linecap="butt"/>
<line x1="134.35" y1="461.20" x2="143.35" y2="461.20" stroke="#000" stroke-width="1.7" stroke-linecap="butt"/>
<line x1="166.40" y1="463.70" x2="166.40" y2="486.00" stroke="#000" stroke-width="1.7" stroke-linecap="butt"/>
<line x1="161.90" y1="463.70" x2="170.90" y2="463.70" stroke="#000" stroke-width="1.7" stroke-linecap="butt"/>
<line x1="161.90" y1="486.00" x2="170.90" y2="486.00" stroke="#000" stroke-width="1.7" stroke-linecap="butt"/>
<line x1="193.95" y1="463.80" x2="193.95" y2="484.80" stroke="#000" stroke-width="1.7" stroke-linecap="butt"/>
<line x1="189.45" y1="463.80" x2="198.45" y2="463.80" stroke="#000" stroke-width="1.7" stroke-linecap="butt"/>
<line x1="189.45" y1="484.80" x2="198.45" y2="484.80" stroke="#000" stroke-width="1.7" stroke-linecap="butt"/>
<circle cx="83.75" cy="478.60" r="4.2" fill="#fff" stroke="#000" stroke-width="1.75"/>
<circle cx="111.30" cy="536.70" r="4.4" fill="#000" stroke="#000" stroke-width="1.75"/>
<circle cx="138.85" cy="517.20" r="4.4" fill="#000" stroke="#000" stroke-width="1.75"/>
<circle cx="166.40" cy="525.80" r="4.4" fill="#000" stroke="#000" stroke-width="1.75"/>
<circle cx="193.95" cy="518.00" r="4.4" fill="#000" stroke="#000" stroke-width="1.75"/>
<rect x="107.15" y="532.55" width="8.30" height="8.30" fill="#000" stroke="#000" stroke-width="1.75"/>
<rect x="134.70" y="512.55" width="8.30" height="8.30" fill="#000" stroke="#000" stroke-width="1.75"/>
<rect x="162.25" y="517.35" width="8.30" height="8.30" fill="#000" stroke="#000" stroke-width="1.75"/>
<rect x="189.80" y="523.15" width="8.30" height="8.30" fill="#000" stroke="#000" stroke-width="1.75"/>
<circle cx="111.30" cy="518.50" r="4.2" fill="#fff" stroke="#000" stroke-width="1.75"/>
<circle cx="138.85" cy="501.60" r="4.2" fill="#fff" stroke="#000" stroke-width="1.75"/>
<circle cx="166.40" cy="513.20" r="4.2" fill="#fff" stroke="#000" stroke-width="1.75"/>
<circle cx="193.95" cy="490.70" r="4.2" fill="#fff" stroke="#000" stroke-width="1.75"/>
<rect x="79.60" y="463.25" width="8.30" height="8.30" fill="#fff" stroke="#000" stroke-width="1.75"/>
<rect x="107.15" y="491.75" width="8.30" height="8.30" fill="#fff" stroke="#000" stroke-width="1.75"/>
<rect x="134.70" y="447.05" width="8.30" height="8.30" fill="#fff" stroke="#000" stroke-width="1.75"/>
<rect x="162.25" y="470.35" width="8.30" height="8.30" fill="#fff" stroke="#000" stroke-width="1.75"/>
<rect x="189.80" y="469.45" width="8.30" height="8.30" fill="#fff" stroke="#000" stroke-width="1.75"/>
<line x1="83.75" y1="463.40" x2="83.75" y2="471.40" stroke="#000" stroke-width="1.5" stroke-linecap="butt"/>
<circle cx="83.75" cy="472.80" r="4.6" fill="#000" stroke="#000" stroke-width="1.75"/>
<text x="110.30" y="486.51" font-size="13.5" text-anchor="middle" font-weight="bold" style="stroke-width:0.32px">*<tspan font-size="9" dy="-3.2" style="stroke-width:0.45px">,&#182;</tspan></text>
<text x="112.00" y="513.21" font-size="13.5" text-anchor="middle" font-weight="bold" style="stroke-width:0.32px">*<tspan font-size="9" dy="-3.2" style="stroke-width:0.45px">,&#8225;</tspan></text>
<text x="138.80" y="439.51" font-size="13.5" text-anchor="middle" font-weight="bold" style="stroke-width:0.32px">*<tspan font-size="9" dy="-3.2" style="stroke-width:0.45px">,&#182;</tspan></text>
<text x="167.30" y="462.51" font-size="13.5" text-anchor="middle" font-weight="bold" style="stroke-width:0.32px">*<tspan font-size="9" dy="-3.2" style="stroke-width:0.45px">,&#182;</tspan></text>
<text x="194.50" y="463.21" font-size="13.5" text-anchor="middle" font-weight="bold" style="stroke-width:0.32px">*<tspan font-size="9" dy="-3.2" style="stroke-width:0.45px">,&#8225;</tspan></text>
<line x1="209.40" y1="470.50" x2="223.30" y2="470.50" stroke="#000" stroke-width="1.6" stroke-linecap="butt"/>
<rect x="212.15" y="466.35" width="8.30" height="8.30" fill="#fff" stroke="#000" stroke-width="1.75"/>
<line x1="209.40" y1="493.50" x2="223.30" y2="493.50" stroke="#000" stroke-width="1.6" stroke-linecap="butt"/>
<circle cx="216.30" cy="493.50" r="4.2" fill="#fff" stroke="#000" stroke-width="1.75"/>
<line x1="209.40" y1="510.30" x2="223.30" y2="510.30" stroke="#000" stroke-width="1.6" stroke-linecap="butt"/>
<rect x="212.15" y="506.15" width="8.30" height="8.30" fill="#000" stroke="#000" stroke-width="1.75"/>
<line x1="209.40" y1="523.60" x2="223.30" y2="523.60" stroke="#000" stroke-width="1.6" stroke-linecap="butt"/>
<circle cx="216.30" cy="523.60" r="4.4" fill="#000" stroke="#000" stroke-width="1.75"/>
<text x="226.60" y="474.64" font-size="11" text-anchor="start" font-weight="bold" textLength="73.4" lengthAdjust="spacingAndGlyphs">WT Eos + PBS</text>
<text x="226.60" y="497.54" font-size="11" text-anchor="start" font-weight="bold" textLength="96" lengthAdjust="spacingAndGlyphs">STAT6<tspan font-size="7.5" dy="-4.4">-/-</tspan><tspan dy="4.4"> Eos + PBS</tspan></text>
<text x="226.60" y="514.34" font-size="11" text-anchor="start" font-weight="bold" textLength="70.4" lengthAdjust="spacingAndGlyphs">WT Eos + IL-5</text>
<text x="226.60" y="527.44" font-size="11" text-anchor="start" font-weight="bold" textLength="93" lengthAdjust="spacingAndGlyphs">STAT6<tspan font-size="7.5" dy="-4.4">-/-</tspan><tspan dy="4.4"> Eos + IL-5</tspan></text>
<polygon points="385.50,551.80 385.50,497.50 386.50,491.00 387.50,489.00 388.40,488.00 389.30,486.30 389.90,472.00 390.80,469.50 391.90,467.50 392.60,462.00 393.50,457.50 394.40,456.50 395.60,454.40 396.30,453.10 396.80,446.00 397.10,440.00 397.50,446.00 397.90,453.10 398.40,462.00 398.90,471.30 399.60,466.00 400.40,461.50 400.80,468.00 401.20,476.00 401.70,485.00 402.50,493.00 403.60,503.00 405.00,515.00 406.20,525.00 407.40,534.00 408.60,540.00 409.80,545.00 411.50,548.60 413.30,550.50 415.70,551.80" fill="#b2b2b2" stroke="none"/>
<polyline points="385.50,497.50 386.50,491.00 387.50,489.00 388.40,488.00 389.30,486.30 389.90,472.00 390.80,469.50 391.90,467.50 392.60,462.00 393.50,457.50 394.40,456.50 395.60,454.40 396.30,453.10 396.80,446.00 397.10,440.00 397.50,446.00 397.90,453.10 398.40,462.00 398.90,471.30 399.60,466.00 400.40,461.50 400.80,468.00 401.20,476.00 401.70,485.00 402.50,493.00 403.60,503.00 405.00,515.00 406.20,525.00 407.40,534.00 408.60,540.00 409.80,545.00 411.50,548.60 413.30,550.50 415.70,551.80" fill="none" stroke="#444" stroke-width="1.4" stroke-linejoin="round"/>
<polyline points="443.8,546.2 445.6,542.5 447.5,538" fill="none" stroke="#888" stroke-width="0.7"/>
<polyline points="467.6,538 468.8,542.5 470.3,546.5" fill="none" stroke="#999" stroke-width="0.7"/>
<polyline points="455.3,467 456,461 456.6,455.5" fill="none" stroke="#888" stroke-width="0.7"/>
<polyline points="434.40,551.80 436.00,549.80 437.50,547.50 439.00,545.80 440.60,544.40 442.20,542.20 443.75,539.40 445.40,535.00 446.90,530.00 448.20,524.00 449.40,517.50 450.40,510.00 451.10,503.00 452.20,493.00 453.20,482.00 454.40,467.50 455.20,459.00 456.00,452.50 456.90,449.50 457.75,447.50 458.30,444.50 458.75,441.90 459.30,449.00 460.00,457.50 461.20,471.00 462.50,485.00 463.20,495.00 463.90,505.00 464.80,517.00 465.60,527.50 466.50,536.00 467.50,542.50 468.70,546.50 470.00,548.75 471.50,550.30 473.10,551.10 476.25,551.80" fill="none" stroke="#2a2a2a" stroke-width="1.45" stroke-linejoin="round"/>
<rect x="385.5" y="424.1" width="128.10" height="127.70" fill="none" stroke="#5a5a5a" stroke-width="1"/>
<line x1="385.50" y1="424.10" x2="385.50" y2="551.80" stroke="#444" stroke-width="1.2" stroke-linecap="butt"/>
<line x1="385.50" y1="551.80" x2="513.60" y2="551.80" stroke="#333" stroke-width="1.3" stroke-linecap="butt"/>
<line x1="382.70" y1="551.80" x2="385.50" y2="551.80" stroke="#444" stroke-width="1" stroke-linecap="butt"/>
<text x="379.00" y="555.44" font-size="11" text-anchor="end" font-weight="bold">0</text>
<line x1="383.80" y1="545.70" x2="385.50" y2="545.70" stroke="#444" stroke-width="0.9" stroke-linecap="butt"/>
<line x1="383.80" y1="539.61" x2="385.50" y2="539.61" stroke="#444" stroke-width="0.9" stroke-linecap="butt"/>
<line x1="383.80" y1="533.51" x2="385.50" y2="533.51" stroke="#444" stroke-width="0.9" stroke-linecap="butt"/>
<line x1="382.70" y1="527.42" x2="385.50" y2="527.42" stroke="#444" stroke-width="1" stroke-linecap="butt"/>
<text x="379.00" y="531.52" font-size="11" text-anchor="end" font-weight="bold">20</text>
<line x1="383.80" y1="521.32" x2="385.50" y2="521.32" stroke="#444" stroke-width="0.9" stroke-linecap="butt"/>
<line x1="383.80" y1="515.23" x2="385.50" y2="515.23" stroke="#444" stroke-width="0.9" stroke-linecap="butt"/>
<line x1="383.80" y1="509.13" x2="385.50" y2="509.13" stroke="#444" stroke-width="0.9" stroke-linecap="butt"/>
<line x1="382.70" y1="503.04" x2="385.50" y2="503.04" stroke="#444" stroke-width="1" stroke-linecap="butt"/>
<text x="379.00" y="507.60" font-size="11" text-anchor="end" font-weight="bold">40</text>
<line x1="383.80" y1="496.94" x2="385.50" y2="496.94" stroke="#444" stroke-width="0.9" stroke-linecap="butt"/>
<line x1="383.80" y1="490.85" x2="385.50" y2="490.85" stroke="#444" stroke-width="0.9" stroke-linecap="butt"/>
<line x1="383.80" y1="484.75" x2="385.50" y2="484.75" stroke="#444" stroke-width="0.9" stroke-linecap="butt"/>
<line x1="382.70" y1="478.66" x2="385.50" y2="478.66" stroke="#444" stroke-width="1" stroke-linecap="butt"/>
<text x="379.00" y="483.68" font-size="11" text-anchor="end" font-weight="bold">60</text>
<line x1="383.80" y1="472.56" x2="385.50" y2="472.56" stroke="#444" stroke-width="0.9" stroke-linecap="butt"/>
<line x1="383.80" y1="466.47" x2="385.50" y2="466.47" stroke="#444" stroke-width="0.9" stroke-linecap="butt"/>
<line x1="383.80" y1="460.37" x2="385.50" y2="460.37" stroke="#444" stroke-width="0.9" stroke-linecap="butt"/>
<line x1="382.70" y1="454.28" x2="385.50" y2="454.28" stroke="#444" stroke-width="1" stroke-linecap="butt"/>
<text x="379.00" y="459.76" font-size="11" text-anchor="end" font-weight="bold">80</text>
<line x1="383.80" y1="448.18" x2="385.50" y2="448.18" stroke="#444" stroke-width="0.9" stroke-linecap="butt"/>
<line x1="383.80" y1="442.09" x2="385.50" y2="442.09" stroke="#444" stroke-width="0.9" stroke-linecap="butt"/>
<line x1="383.80" y1="435.99" x2="385.50" y2="435.99" stroke="#444" stroke-width="0.9" stroke-linecap="butt"/>
<line x1="382.70" y1="429.90" x2="385.50" y2="429.90" stroke="#444" stroke-width="1" stroke-linecap="butt"/>
<text x="379.00" y="435.84" font-size="11" text-anchor="end" font-weight="bold">100</text>
<line x1="385.50" y1="551.80" x2="385.50" y2="554.60" stroke="#333" stroke-width="1" stroke-linecap="butt"/>
<line x1="395.14" y1="551.80" x2="395.14" y2="553.70" stroke="#333" stroke-width="0.8" stroke-linecap="butt"/>
<line x1="400.78" y1="551.80" x2="400.78" y2="553.70" stroke="#333" stroke-width="0.8" stroke-linecap="butt"/>
<line x1="404.78" y1="551.80" x2="404.78" y2="553.70" stroke="#333" stroke-width="0.8" stroke-linecap="butt"/>
<line x1="407.88" y1="551.80" x2="407.88" y2="553.70" stroke="#333" stroke-width="0.8" stroke-linecap="butt"/>
<line x1="410.42" y1="551.80" x2="410.42" y2="553.70" stroke="#333" stroke-width="0.8" stroke-linecap="butt"/>
<line x1="412.56" y1="551.80" x2="412.56" y2="553.70" stroke="#333" stroke-width="0.8" stroke-linecap="butt"/>
<line x1="414.42" y1="551.80" x2="414.42" y2="553.70" stroke="#333" stroke-width="0.8" stroke-linecap="butt"/>
<line x1="416.06" y1="551.80" x2="416.06" y2="553.70" stroke="#333" stroke-width="0.8" stroke-linecap="butt"/>
<line x1="417.52" y1="551.80" x2="417.52" y2="554.60" stroke="#333" stroke-width="1" stroke-linecap="butt"/>
<line x1="427.17" y1="551.80" x2="427.17" y2="553.70" stroke="#333" stroke-width="0.8" stroke-linecap="butt"/>
<line x1="432.80" y1="551.80" x2="432.80" y2="553.70" stroke="#333" stroke-width="0.8" stroke-linecap="butt"/>
<line x1="436.81" y1="551.80" x2="436.81" y2="553.70" stroke="#333" stroke-width="0.8" stroke-linecap="butt"/>
<line x1="439.91" y1="551.80" x2="439.91" y2="553.70" stroke="#333" stroke-width="0.8" stroke-linecap="butt"/>
<line x1="442.45" y1="551.80" x2="442.45" y2="553.70" stroke="#333" stroke-width="0.8" stroke-linecap="butt"/>
<line x1="444.59" y1="551.80" x2="444.59" y2="553.70" stroke="#333" stroke-width="0.8" stroke-linecap="butt"/>
<line x1="446.45" y1="551.80" x2="446.45" y2="553.70" stroke="#333" stroke-width="0.8" stroke-linecap="butt"/>
<line x1="448.08" y1="551.80" x2="448.08" y2="553.70" stroke="#333" stroke-width="0.8" stroke-linecap="butt"/>
<line x1="449.55" y1="551.80" x2="449.55" y2="554.60" stroke="#333" stroke-width="1" stroke-linecap="butt"/>
<line x1="459.19" y1="551.80" x2="459.19" y2="553.70" stroke="#333" stroke-width="0.8" stroke-linecap="butt"/>
<line x1="464.83" y1="551.80" x2="464.83" y2="553.70" stroke="#333" stroke-width="0.8" stroke-linecap="butt"/>
<line x1="468.83" y1="551.80" x2="468.83" y2="553.70" stroke="#333" stroke-width="0.8" stroke-linecap="butt"/>
<line x1="471.93" y1="551.80" x2="471.93" y2="553.70" stroke="#333" stroke-width="0.8" stroke-linecap="butt"/>
<line x1="474.47" y1="551.80" x2="474.47" y2="553.70" stroke="#333" stroke-width="0.8" stroke-linecap="butt"/>
<line x1="476.61" y1="551.80" x2="476.61" y2="553.70" stroke="#333" stroke-width="0.8" stroke-linecap="butt"/>
<line x1="478.47" y1="551.80" x2="478.47" y2="553.70" stroke="#333" stroke-width="0.8" stroke-linecap="butt"/>
<line x1="480.11" y1="551.80" x2="480.11" y2="553.70" stroke="#333" stroke-width="0.8" stroke-linecap="butt"/>
<line x1="481.58" y1="551.80" x2="481.58" y2="554.60" stroke="#333" stroke-width="1" stroke-linecap="butt"/>
<line x1="491.22" y1="551.80" x2="491.22" y2="553.70" stroke="#333" stroke-width="0.8" stroke-linecap="butt"/>
<line x1="496.85" y1="551.80" x2="496.85" y2="553.70" stroke="#333" stroke-width="0.8" stroke-linecap="butt"/>
<line x1="500.86" y1="551.80" x2="500.86" y2="553.70" stroke="#333" stroke-width="0.8" stroke-linecap="butt"/>
<line x1="503.96" y1="551.80" x2="503.96" y2="553.70" stroke="#333" stroke-width="0.8" stroke-linecap="butt"/>
<line x1="506.50" y1="551.80" x2="506.50" y2="553.70" stroke="#333" stroke-width="0.8" stroke-linecap="butt"/>
<line x1="508.64" y1="551.80" x2="508.64" y2="553.70" stroke="#333" stroke-width="0.8" stroke-linecap="butt"/>
<line x1="510.50" y1="551.80" x2="510.50" y2="553.70" stroke="#333" stroke-width="0.8" stroke-linecap="butt"/>
<line x1="512.13" y1="551.80" x2="512.13" y2="553.70" stroke="#333" stroke-width="0.8" stroke-linecap="butt"/>
<line x1="513.60" y1="551.80" x2="513.60" y2="554.60" stroke="#333" stroke-width="1" stroke-linecap="butt"/>
<text x="386.90" y="568.82" font-size="10.1" text-anchor="start" font-weight="bold">10<tspan font-size="6.3" dy="-3.3">0</tspan></text>
<text x="410.70" y="568.82" font-size="10.1" text-anchor="start" font-weight="bold">10<tspan font-size="6.3" dy="-3.3">1</tspan></text>
<text x="444.90" y="568.82" font-size="10.1" text-anchor="start" font-weight="bold">10<tspan font-size="6.3" dy="-3.3">2</tspan></text>
<text x="475.20" y="568.82" font-size="10.1" text-anchor="start" font-weight="bold">10<tspan font-size="6.3" dy="-3.3">3</tspan></text>
<text x="502.60" y="568.82" font-size="10.1" text-anchor="start" font-weight="bold">10<tspan font-size="6.3" dy="-3.3">4</tspan></text>
<line x1="384.00" y1="572.70" x2="513.00" y2="572.70" stroke="#000" stroke-width="2.6" stroke-linecap="butt"/>
<polygon points="518.2,572.7 510.3,568.4 512.6,572.7 510.3,577" fill="#000" stroke="#000" stroke-width="0.6" stroke-linejoin="miter"/>
<text x="445.50" y="585.75" font-size="13" text-anchor="middle" font-weight="bold" textLength="36.8" lengthAdjust="spacingAndGlyphs">CCR3</text>
</svg>
</body>
</html>
